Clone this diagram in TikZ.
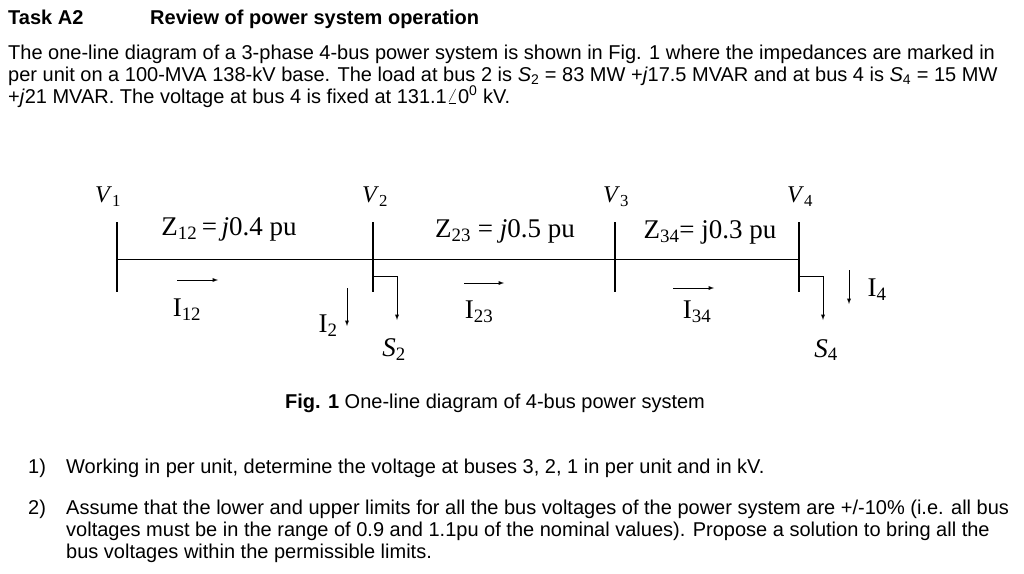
\documentclass[tikz,border=0pt]{standalone}
\usepackage{fontspec}
\setmainfont{Liberation Sans}
\newfontfamily\serf{Liberation Serif}
\begin{document}
\begin{tikzpicture}[x=1pt,y=-1pt,
  txt/.style={anchor=base west,inner sep=0pt,font=\fontsize{20}{23}\selectfont},
  lbl/.style={inner sep=0pt,font=\serf\fontsize{27}{29}\selectfont},
  vl/.style={inner sep=0pt,font=\serf\fontsize{24}{26}\selectfont},
  bus/.style={line width=1.6pt},
  ln/.style={line width=1pt},
  arr/.style={line width=0.9pt,-latex}]
\useasboundingbox (0,0) rectangle (1024,573);
% header text
\node[txt] (t1) at (8,24) {\bfseries Task A2};
\node[txt] (t2) at (150,24) {\bfseries Review of power system operation};
\node[txt] (p1) at (8,59) {The one-line diagram of a 3-phase 4-bus power system is shown in Fig. 1 where the impedances are marked in};
\node[txt] (p2) at (8,81) {per unit on a 100-MVA 138-kV base. The load at bus 2 is \textit{S}\textsubscript{2} = 83 MW +\textit{j}17.5 MVAR and at bus 4 is \textit{S}\textsubscript{4} = 15 MW};
\node[txt] (p3) at (8,103) {+\textit{j}21 MVAR. The voltage at bus 4 is fixed at 131.1$\angle$0\textsuperscript{0} kV.};
% buses
\coordinate (b1t) at (117,222); \coordinate (b1b) at (117,292);
\coordinate (b2t) at (373,222); \coordinate (b2b) at (373,292);
\coordinate (b3t) at (615,222); \coordinate (b3b) at (615,292);
\coordinate (b4t) at (799,222); \coordinate (b4b) at (799,292);
\draw[bus] (b1t) -- (b1b); \draw[bus] (b2t) -- (b2b);
\draw[bus] (b3t) -- (b3b); \draw[bus] (b4t) -- (b4b);
\coordinate (l1) at (117,259); \coordinate (l4) at (799,259);
\draw[ln] (l1) -- (l4);
% loads
\coordinate (s2a) at (373,276); \coordinate (s2e) at (397,320);
\draw[arr] (s2a) -| (s2e);
\coordinate (s4a) at (799,276); \coordinate (s4e) at (823,320);
\draw[arr] (s4a) -| (s4e);
\coordinate (i2a) at (347,288); \coordinate (i2b) at (347,326);
\draw[arr] (i2a) -- (i2b);
\coordinate (i4a) at (849,270); \coordinate (i4b) at (849,304);
\draw[arr] (i4a) -- (i4b);
% current arrows
\coordinate (a1) at (177,280); \coordinate (a2) at (218,280);
\draw[arr] (a1) -- (a2);
\coordinate (a3) at (464,283); \coordinate (a4) at (504,283);
\draw[arr] (a3) -- (a4);
\coordinate (a5) at (673,288); \coordinate (a6) at (714,288);
\draw[arr] (a5) -- (a6);
% labels
\node[vl] (v1) at (108,197) {\textit{V}\textsubscript{1}};
\node[vl] (v2) at (375,197) {\textit{V}\textsubscript{2}};
\node[vl] (v3) at (616,197) {\textit{V}\textsubscript{3}};
\node[vl] (v4) at (800,197) {\textit{V}\textsubscript{4}};
\node[lbl] (z12) at (229,229) {Z\textsubscript{12}\,=\,\textit{j}0.4 pu};
\node[lbl] (z23) at (505,231) {Z\textsubscript{23} = \textit{j}0.5 pu};
\node[lbl] (z34) at (710,232) {Z\textsubscript{34}= j0.3 pu};
\node[lbl] (i12) at (187,310) {I\textsubscript{12}};
\node[lbl] (i23) at (479,312) {I\textsubscript{23}};
\node[lbl] (i34) at (697,312) {I\textsubscript{34}};
\node[lbl] (i2) at (328,326) {I\textsubscript{2}};
\node[lbl] (i4) at (877,290) {I\textsubscript{4}};
\node[lbl] (S2) at (394,350) {\textit{S}\textsubscript{2}};
\node[lbl] (S4) at (826,350) {\textit{S}\textsubscript{4}};
% caption
\node[txt,anchor=base] (cap) at (495,408) {\textbf{Fig. 1} One-line diagram of 4-bus power system};
% questions
\node[txt] (q1n) at (28,473) {1)};
\node[txt] (q1) at (66,473) {Working in per unit, determine the voltage at buses 3, 2, 1 in per unit and in kV.};
\node[txt] (q2n) at (28,514) {2)};
\node[txt] (q2a) at (66,514) {Assume that the lower and upper limits for all the bus voltages of the power system are +/-10\% (i.e. all bus};
\node[txt] (q2b) at (66,536) {voltages must be in the range of 0.9 and 1.1pu of the nominal values). Propose a solution to bring all the};
\node[txt] (q2c) at (66,558) {bus voltages within the permissible limits.};
\end{tikzpicture}
\end{document}
